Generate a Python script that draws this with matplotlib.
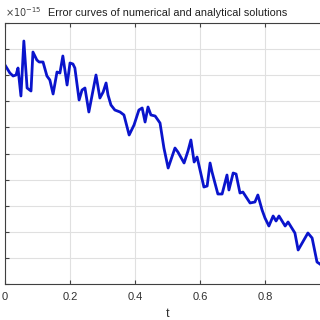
import numpy as np
import matplotlib
matplotlib.use("Agg")
import matplotlib.pyplot as plt

# error values (units of 1e-15)
t = [0.000, 0.015, 0.025, 0.034, 0.040, 0.049, 0.058, 0.068, 0.080, 0.086,
     0.098, 0.105, 0.117, 0.129, 0.138, 0.148, 0.160, 0.169, 0.178, 0.191,
     0.200, 0.209, 0.215, 0.228, 0.237, 0.246, 0.258, 0.280, 0.292, 0.302,
     0.311, 0.317, 0.326, 0.338, 0.354, 0.366, 0.382, 0.397, 0.412, 0.422,
     0.431, 0.440, 0.449, 0.462, 0.477, 0.489, 0.502, 0.523, 0.532, 0.551,
     0.563, 0.572, 0.582, 0.591, 0.612, 0.622, 0.631, 0.637, 0.655, 0.668,
     0.683, 0.689, 0.702, 0.711, 0.723, 0.732, 0.754, 0.769, 0.778, 0.791,
     0.800, 0.812, 0.825, 0.834, 0.843, 0.862, 0.871, 0.892, 0.902, 0.932,
     0.945, 0.960, 0.969, 0.985]
err = [4.195, 4.042, 3.985, 4.004, 4.138, 3.602, 4.655, 3.755, 3.697, 4.444,
       4.291, 4.253, 4.253, 3.985, 3.908, 3.640, 4.061, 4.042, 4.368, 3.812,
       4.234, 4.215, 4.138, 3.525, 3.716, 3.755, 3.295, 4.004, 3.563, 3.678,
       3.851, 3.621, 3.429, 3.333, 3.295, 3.238, 2.854, 3.046, 3.333, 3.372,
       3.103, 3.391, 3.238, 3.218, 3.084, 2.605, 2.222, 2.605, 2.529, 2.318,
       2.548, 2.759, 2.337, 2.433, 1.858, 1.877, 2.318, 2.146, 1.724, 1.724,
       2.088, 1.801, 2.126, 2.107, 1.743, 1.762, 1.552, 1.571, 1.705, 1.418,
       1.264, 1.111, 1.303, 1.207, 1.303, 1.111, 1.188, 0.977, 0.651, 0.977,
       0.881, 0.421, 0.383, 0.300]

# the "1" tick sits past the cropped right edge, so only these show
xticks = [0, 0.2, 0.4, 0.6, 0.8]
xticklabels = ["0", "0.2", "0.4", "0.6", "0.8"]

plt.rcParams['font.family'] = ['Liberation Sans', 'DejaVu Sans']

fig = plt.figure(figsize=(3.2, 3.2), dpi=100)
# axes runs past the right edge like the cropped original
ax = fig.add_axes([5 / 320, 36 / 320, 325 / 320, 261 / 320])

ax.plot(t, err, color='#0a14cc', linewidth=2.0, solid_joinstyle='round')

ax.set_xlim(0, 1)
ax.set_ylim(0, 5)
ax.set_xticks(xticks)
ax.set_xticklabels(xticklabels)
ax.set_yticks(np.arange(0, 5.01, 0.5))
ax.set_yticklabels([])
ax.grid(True, color='#e0e0e0', linewidth=0.8)
ax.set_axisbelow(True)
ax.tick_params(direction='in', length=3, color='#404040', labelsize=8,
               labelcolor='#303030', top=True, right=True, pad=6)
for s in ax.spines.values():
    s.set_color('#404040')
    s.set_linewidth(0.8)

ax.set_xlabel('t', fontsize=9, color='#303030', labelpad=4)
ax.set_title('Error curves of numerical and analytical solutions',
             fontsize=7.8, color='#202020', pad=5)
fig.text(5 / 320, 1 - 17 / 320, r'$\times10^{-15}$', fontsize=7,
         color='#404040', ha='left', va='baseline')

fig.savefig('out.png', dpi=100)
